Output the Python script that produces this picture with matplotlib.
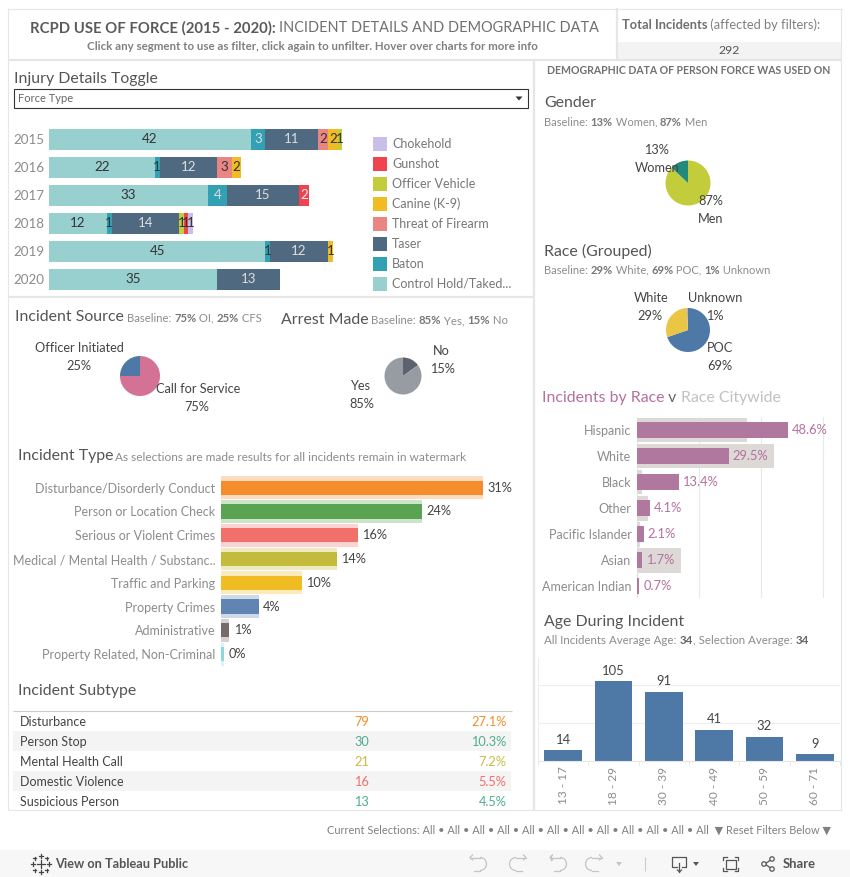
import numpy as np
import matplotlib
matplotlib.use("Agg")
import matplotlib.pyplot as plt
from matplotlib.patches import Rectangle, Arc, Circle, Polygon

plt.rcParams['font.family'] = ['Lato', 'DejaVu Sans']

# ================= DATA =================
YEARS = ["2015", "2016", "2017", "2018", "2019", "2020"]
FORCE_TYPES = ["Control Hold/Taked...", "Baton", "Taser", "Threat of Firearm",
               "Canine (K-9)", "Officer Vehicle", "Gunshot", "Chokehold"]
FORCE_COLOURS = ["#98CFCF", "#31A1B3", "#4F6980", "#E98683",
                 "#F0BC24", "#C3CD3B", "#EF4450", "#C9BEEA"]
FORCE_TEXT = ["#333333", "#dddddd", "#dddddd", "#333333",
              "#333333", "#333333", "#eeeeee", "#333333"]
FORCE_COUNTS = [
    [42, 22, 33, 12, 45, 35],
    [3, 1, 4, 1, 1, 0],
    [11, 12, 15, 14, 12, 13],
    [2, 3, 0, 0, 0, 0],
    [2, 2, 0, 0, 1, 0],
    [1, 0, 0, 1, 0, 0],
    [0, 0, 2, 1, 0, 0],
    [0, 0, 0, 1, 0, 0],
]

GENDER = [87, 13]
GENDER_COLOURS = ["#C3CD3B", "#22897B"]
RACE_GROUP = [69, 29, 1]
RACE_GROUP_COLOURS = ["#4E79A7", "#EBC544", "#BAB0AC"]
SOURCE = [75, 25]
SOURCE_COLOURS = ["#D37295", "#4E79A7"]
ARREST = [15, 85]
ARREST_COLOURS = ["#5C636E", "#979CA3"]

INCIDENT_TYPES = ["Disturbance/Disorderly Conduct", "Person or Location Check",
                  "Serious or Violent Crimes", "Medical / Mental Health / Substanc..",
                  "Traffic and Parking", "Property Crimes", "Administrative",
                  "Property Related, Non-Criminal"]
INCIDENT_PCT = [31.0, 23.8, 16.2, 13.7, 9.6, 4.5, 1.0, 0.4]
INCIDENT_LABELS = ["31%", "24%", "16%", "14%", "10%", "4%", "1%", "0%"]
INCIDENT_COLOURS = ["#F58D2C", "#5AA350", "#F1706A", "#C4BB3C",
                    "#F0BC24", "#6085B2", "#76696A", "#8FD6E1"]

RACES = ["Hispanic", "White", "Black", "Other", "Pacific Islander", "Asian", "American Indian"]
RACE_PCT = [48.6, 29.5, 13.4, 4.1, 2.1, 1.7, 0.7]
RACE_CITY = [35.4, 44.0, 1.6, 3.5, 1.0, 14.2, 0.3]

AGE_BINS = ["13 - 17", "18 - 29", "30 - 39", "40 - 49", "50 - 59", "60 - 71"]
AGE_COUNTS = [14, 105, 91, 41, 32, 9]

SUBTYPES = ["Disturbance", "Person Stop", "Mental Health Call", "Domestic Violence", "Suspicious Person"]
SUBTYPE_COUNTS = ["79", "30", "21", "16", "13"]
SUBTYPE_PCT = ["27.1%", "10.3%", "7.2%", "5.5%", "4.5%"]
SUBTYPE_COLOURS = ["#F28E2B", "#4FAE8A", "#C9BC45", "#F1706A", "#4FAE8A"]

# ================= LAYOUT HELPERS =================
W, H = 850, 877
fig = plt.figure(figsize=(W / 100, H / 100), dpi=100, facecolor="white")

DARK = "#444444"
GREY = "#8c8c8c"
LINE = "#e6e6e6"
RED_PINK = "#B5709F"
TITLE_SIZE = 11.4


def ax_px(x0, y0, x1, y1):
    """Axes placed from pixel box, y measured from the top of the figure."""
    return fig.add_axes([x0 / W, 1 - y1 / H, (x1 - x0) / W, (y1 - y0) / H])


# overlay in pixel coords, for panels and header text
ov = fig.add_axes([0, 0, 1, 1], zorder=5)
ov.set_xlim(0, W)
ov.set_ylim(H, 0)
ov.axis("off")
ov.patch.set_alpha(0)

bg = fig.add_axes([0, 0, 1, 1], zorder=0)
bg.set_xlim(0, W)
bg.set_ylim(H, 0)
bg.axis("off")


def txt(x, y, s, size=9, color=DARK, ha="left", va="center", weight="normal", **kw):
    return ov.text(x, y, s, fontsize=size, color=color, ha=ha, va=va, fontweight=weight, **kw)


def title(x, y, s):
    return txt(x, y + 1.7, s, size=TITLE_SIZE, color="#555555")


def runs(x, y, parts, size=9):
    """Write coloured text pieces one after the other."""
    rend = fig.canvas.get_renderer()
    for piece in parts:
        s, col = piece[0], piece[1]
        weight = piece[2] if len(piece) > 2 else "normal"
        t = txt(x, y, s, size=size, color=col, weight=weight)
        x = t.get_window_extent(rend).x1
    return x


def hline(x0, x1, y, col=LINE, lw=0.8):
    bg.plot([x0, x1], [y, y], color=col, lw=lw, solid_capstyle="butt")


def vline(x, y0, y1, col=LINE, lw=0.8):
    bg.plot([x, x], [y0, y1], color=col, lw=lw, solid_capstyle="butt")


# ================= PANELS =================
bg.add_patch(Rectangle((618, 42), 223, 17, color="#f3f3f3", lw=0))
bg.add_patch(Rectangle((0, 850), W, 27, color="#f7f7f7", lw=0))
hline(8, 842, 8.5)
hline(8, 842, 60, lw=1.6)
hline(8, 534, 296.5, lw=1.6)
hline(8, 842, 809.5)
vline(8.5, 8, 810)
vline(841.5, 8, 810)
vline(617, 8, 60, lw=1.6)
vline(534.5, 60, 810, lw=1.6)

# ================= HEADER =================
end = runs(30, 28, [("RCPD USE OF FORCE (2015 - 2020):", "#5a5a5a", "bold")], size=10.7)
runs(end + 3, 28, [("INCIDENT DETAILS AND DEMOGRAPHIC DATA", "#707070")], size=10.45)
txt(312, 46, "Click any segment to use as filter, click again to unfilter. Hover over charts for more info",
    size=8.3, color="#808080", ha="center", weight="bold")
runs(622, 25, [("Total Incidents", "#707070", "bold"), (" (affected by filters):", "#808080")], size=9.25)
txt(729, 50.5, "292", size=8.8, color="#555555", ha="center")

# ================= FORCE TYPE STACK =================
title(14, 77, "Injury Details Toggle")
ov.add_patch(Rectangle((14.5, 88.5), 514, 19, fill=False, ec="#333333", lw=0.8))
txt(18, 98, "Force Type", size=8, color="#666666")
ov.add_patch(Polygon([[515.5, 96.5], [522.5, 96.5], [519, 100.5]], color="#333333", lw=0))

ax = ax_px(49, 125, 533, 293)
ax.set_xlim(0, 484 / 4.81)
ax.set_ylim(5.5, -0.5)
ypos = np.arange(len(YEARS))
left = np.zeros(len(YEARS))
for vals, col, tcol in zip(FORCE_COUNTS, FORCE_COLOURS, FORCE_TEXT):
    vals = np.array(vals, dtype=float)
    ax.barh(ypos, vals, left=left, height=0.75, color=col, lw=0)
    for i, v in enumerate(vals):
        if v > 0:
            # the narrow single-count slices are labelled in dark text
            ax.text(left[i] + v / 2, i, f"{int(v)}", ha="center", va="center", fontsize=9.6,
                    color="#333333" if v < 2 else tcol)
    left += vals
ax.set_yticks(ypos, YEARS)
ax.set_xticks([])
ax.tick_params(axis="y", length=0, pad=3, labelsize=9.6, labelcolor=GREY)
for s in ax.spines.values():
    s.set_visible(False)
ax.patch.set_alpha(0)

legend_rows = list(zip(FORCE_TYPES, FORCE_COLOURS))[::-1]
for i, (name, col) in enumerate(legend_rows):
    yy = 144 + 20 * i
    ov.add_patch(Rectangle((373, yy - 7), 14, 14, color=col, lw=0))
    txt(392, yy, name, size=9, color="#777777")


# ================= PIES =================
def pie(cx, cy, r, vals, cols):
    a = ax_px(cx - r - 1, cy - r - 1, cx + r + 1, cy + r + 1)
    a.pie(vals, colors=cols, startangle=90, counterclock=False, radius=r / (r + 1))
    a.set_xlim(-1, 1)
    a.set_ylim(-1, 1)
    a.patch.set_alpha(0)
    return a


title(15, 315, "Incident Source")
runs(127, 318, [("Baseline: ", GREY), ("75%", "#777777", "bold"), (" OI, ", GREY),
                ("25%", "#777777", "bold"), (" CFS", GREY)], size=8.1)
title(281, 318, "Arrest Made")
runs(371, 321, [("Baseline: ", GREY), ("85%", "#777777", "bold"), (" Yes, ", GREY),
                ("15%", "#777777", "bold"), (" No", GREY)], size=8.2)

pie(140, 376, 20, SOURCE, SOURCE_COLOURS)
pie(403, 376, 18.5, ARREST, ARREST_COLOURS)
for x, y, s in [(79.5, 348, "Officer Initiated"), (79, 366, "25%"), (198, 389, "Call for Service"),
                (197, 407, "75%"), (441, 351, "No"), (442, 369, "15%"), (361, 386, "Yes"), (362, 404, "85%")]:
    txt(x, y, s, size=9.2, color=DARK, ha="center")

txt(547, 70, "DEMOGRAPHIC DATA OF PERSON FORCE WAS USED ON", size=7.6, color="#707070", weight="bold")

title(544, 101.5, "Gender")
runs(544, 122, [("Baseline: ", GREY), ("13%", "#777777", "bold"), (" Women, ", GREY),
                ("87%", "#777777", "bold"), (" Men", GREY)], size=8)
pie(688, 183, 22.5, GENDER, GENDER_COLOURS)
for x, y, s in [(656.5, 150, "13%"), (657, 168, "Women"), (710.5, 201, "87%"), (710.5, 219, "Men")]:
    txt(x, y, s, size=9.2, color=DARK, ha="center")

title(544, 249.5, "Race (Grouped)")
runs(544, 270, [("Baseline: ", GREY), ("29%", "#777777", "bold"), (" White, ", GREY),
                ("69%", "#777777", "bold"), (" POC, ", GREY), ("1%", "#777777", "bold"), (" Unknown", GREY)], size=8)
pie(688, 330, 22, RACE_GROUP, RACE_GROUP_COLOURS)
for x, y, s in [(651, 298, "White"), (650, 316, "29%"), (715, 298, "Unknown"), (715, 316, "1%"),
                (720, 348, "POC"), (720, 366, "69%")]:
    txt(x, y, s, size=9.2, color=DARK, ha="center")

# ================= INCIDENT TYPE =================
title(18, 454.5, "Incident Type")
txt(115, 457.5, "As selections are made results for all incidents remain in watermark", size=8.6, color=GREY)

ax = ax_px(221, 475.8, 500, 666)
ax.set_xlim(0, 279 / 8.45)
ax.set_ylim(7.5, -0.5)
ypos = np.arange(len(INCIDENT_TYPES))
ax.barh(ypos, INCIDENT_PCT, height=0.96, color=INCIDENT_COLOURS, alpha=0.3, lw=0)
ax.barh(ypos, INCIDENT_PCT, height=0.6, color=INCIDENT_COLOURS, lw=0)
for i, v in enumerate(INCIDENT_PCT):
    ax.annotate(INCIDENT_LABELS[i], (v, i), xytext=(3, 0), textcoords="offset points",
                va="center", fontsize=9.2, color=DARK)
ax.set_yticks(ypos, INCIDENT_TYPES)
ax.set_xticks([])
ax.tick_params(axis="y", length=0, pad=4, labelsize=9, labelcolor=GREY)
for s in ax.spines.values():
    s.set_visible(False)
ax.patch.set_alpha(0)

# ================= SUBTYPE TABLE =================
title(18, 689.5, "Incident Subtype")
ax = ax_px(13, 710.7, 512, 806)
ax.set_xlim(13, 512)
ax.set_ylim(4.265, -0.5)
ax.axis("off")
for i, name in enumerate(SUBTYPES):
    if i % 2 == 1:
        ax.axhspan(i - 0.5, i + 0.5, color="#f4f4f4", lw=0, xmax=0.998)
    ax.text(19.5, i + 0.05, name, fontsize=9, color=DARK, va="center", clip_on=True)
    ax.text(369, i + 0.05, SUBTYPE_COUNTS[i], fontsize=9.2, color=SUBTYPE_COLOURS[i], va="center", ha="right", clip_on=True)
    ax.text(506.5, i + 0.05, SUBTYPE_PCT[i], fontsize=9.2, color=SUBTYPE_COLOURS[i], va="center", ha="right", clip_on=True)
hline(13, 512, 711, col="#cccccc", lw=0.8)

# ================= RACE BARS =================
runs(542, 398, [("Incidents by Race", RED_PINK), (" v ", "#666666"), ("Race Citywide", "#c4c0be")], size=11.4)

ax = ax_px(637, 417, 835, 598)
ax.set_xlim(0, 198 / 3.107)
ax.set_ylim(6.46, -0.5)
ypos = np.arange(len(RACES))
ax.set_axisbelow(True)
ax.xaxis.grid(True, color="#e8e8e8", lw=0.8)
ax.set_xticks([0, 20, 40, 60], ["", "", "", ""])
ax.barh(ypos, RACE_CITY, height=0.96, color="#DDD9D7", lw=0)
ax.barh(ypos, RACE_PCT, height=0.62, color="#B0779F", lw=0)
for i, v in enumerate(RACE_PCT):
    ax.annotate(f"{v}%", (v, i), xytext=(3, 0), textcoords="offset points",
                va="center", fontsize=9.3, color=RED_PINK)
ax.set_yticks(ypos, RACES)
ax.tick_params(axis="y", length=0, pad=4, labelsize=9, labelcolor=GREY)
ax.tick_params(axis="x", length=0)
for s in ax.spines.values():
    s.set_visible(False)
ax.patch.set_alpha(0)

# ================= AGE BARS =================
title(544, 620, "Age During Incident")
runs(544, 641, [("All Incidents Average Age: ", GREY), ("34", "#666666", "bold"),
                (", Selection Average: ", GREY), ("34", "#666666", "bold")], size=8.3)

ax = ax_px(538, 658, 840, 761)
ax.set_xlim(-0.5, 5.5)
ax.set_ylim(0, 103 / 0.762)
xpos = np.arange(len(AGE_BINS))
ax.set_axisbelow(True)
ax.set_yticks([50, 100], ["", ""])
ax.yaxis.grid(True, color="#eeeeee", lw=0.8)
ax.bar(xpos, AGE_COUNTS, width=0.754, color="#4E79A7", lw=0)
for i, v in enumerate(AGE_COUNTS):
    ax.annotate(str(v), (i, v), xytext=(0, 7.5), textcoords="offset points",
                ha="center", va="center", fontsize=9.4, color=DARK)
ax.set_xticks(xpos, AGE_BINS, rotation=90)
ax.set_xticks(np.arange(-0.5, 6), minor=True)
ax.tick_params(axis="x", which="major", length=0, pad=4, labelsize=8.6, labelcolor=GREY)
ax.tick_params(axis="x", which="minor", length=3, color="#e6e6e6")
ax.tick_params(axis="y", length=0)
ax.spines["top"].set_visible(False)
ax.spines["right"].set_visible(False)
ax.spines["left"].set_color("#eeeeee")
ax.spines["bottom"].set_color("#e6e6e6")
ax.patch.set_alpha(0)

# ================= FOOTER =================
sel = " • ".join(["All"] * 12)
txt(327, 830, f"Current Selections: {sel}  ▼ Reset Filters Below ▼", size=7.9, color="#808080")

ICON = "#c4c4c4"
ICON_DARK = "#555555"
# tableau logo
for dx, dy, r in [(0, 0, 4), (-8, 0, 2), (8, 0, 2), (0, -8, 2), (0, 8, 2),
                  (-6, -6, 1.5), (6, -6, 1.5), (-6, 6, 1.5), (6, 6, 1.5)]:
    ov.plot([41 + dx - r, 41 + dx + r], [864 + dy, 864 + dy], color="#444444", lw=0.9)
    ov.plot([41 + dx, 41 + dx], [864 + dy - r, 864 + dy + r], color="#444444", lw=0.9)
txt(55, 864, "View on Tableau Public", size=9.2, color="#555555", weight="bold")

# undo / revert point left, redo / refresh point right
for cx, flip in [(478, False), (518, True), (558, False), (594, True)]:
    s = -1 if flip else 1
    ov.add_patch(Arc((cx + s * 2, 864), 13, 13, theta1=90 if flip else -90, theta2=270 if flip else 90,
                     ec=ICON, lw=0.9))
    ov.plot([cx - s * 8, cx + s * 2], [857.5, 857.5], color=ICON, lw=0.9)
    ov.plot([cx - s * 4, cx + s * 2], [870.5, 870.5], color=ICON, lw=0.9)
    ov.plot([cx - s * 5.5, cx - s * 8, cx - s * 5.5], [855, 857.5, 860], color=ICON, lw=0.9)
ov.plot([551, 551], [855, 860], color=ICON, lw=0.9)
ov.add_patch(Polygon([[616, 862], [622, 862], [619, 866]], color=ICON, lw=0))
vline(645, 857, 871, col="#cccccc", lw=0.8)
ov.plot([677, 672.5, 672.5, 686.5, 686.5, 682], [867, 867, 857, 857, 867, 867], color=ICON_DARK, lw=0.9)
ov.plot([679.5, 679.5], [863, 872], color=ICON_DARK, lw=0.9)
ov.plot([677.5, 679.5, 681.5], [870, 872, 870], color=ICON_DARK, lw=0.9)
ov.add_patch(Polygon([[693, 862], [699, 862], [696, 866]], color=ICON_DARK, lw=0))
for xs, ys in [([723.5, 723.5, 727], [860, 857, 857]), ([735, 738.5, 738.5], [857, 857, 860]),
               ([723.5, 723.5, 727], [868, 871, 871]), ([735, 738.5, 738.5], [871, 871, 868])]:
    ov.plot(xs, ys, color=ICON_DARK, lw=0.9)
ov.add_patch(Rectangle((726, 859.5), 10, 9.5, fill=False, ec=ICON_DARK, lw=0.9))
ov.plot([765, 772], [864, 859], color=ICON_DARK, lw=0.9)
ov.plot([765, 772], [864, 869], color=ICON_DARK, lw=0.9)
for cx, cy in [(764, 864), (772, 859), (772, 869)]:
    ov.add_patch(Circle((cx, cy), 2.2, fc="#f7f7f7", ec=ICON_DARK, lw=0.9, zorder=6))
txt(783, 864, "Share", size=9.4, color="#555555", weight="bold")

fig.savefig("out.png", dpi=100)
